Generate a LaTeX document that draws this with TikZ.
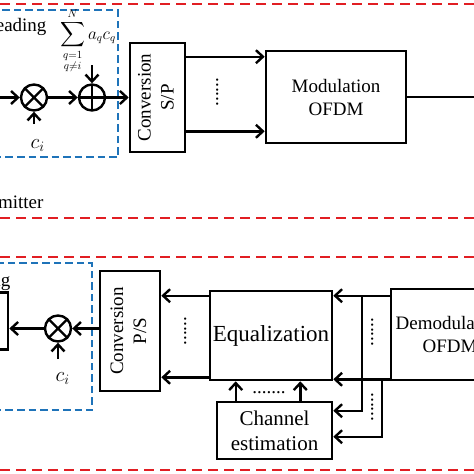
\documentclass[tikz,border=0pt]{standalone}
\usepackage{amsmath}
\usepackage{fontspec}
\setmainfont{Liberation Serif}
\usepackage{tikz}
\usetikzlibrary{arrows.meta,calc,positioning}
\definecolor{dashred}{RGB}{225,30,35}
\definecolor{dashblue}{RGB}{30,115,185}
\newcommand{\sidetext}[1]{\rotatebox{90}{\begin{tabular}{@{}c@{}}#1\end{tabular}}}
\tikzset{
>={Straight Barb[length=7pt,width=13pt]},
  block/.style={
    rectangle,
    draw=black, line width=2.6pt,
    inner sep=2pt,
    align=center},
  mixer/.style={circle, draw, line width=2.4pt, minimum size=26pt, inner sep=0pt},
  multiply/.style={mixer, path picture={
      \draw[line width=2.4pt] (path picture bounding box.south west) -- (path picture bounding box.north east)
        (path picture bounding box.north west) -- (path picture bounding box.south east);}},
  addition/.style={mixer, path picture={
      \draw[line width=2.4pt] (path picture bounding box.south) -- (path picture bounding box.north)
        (path picture bounding box.west) -- (path picture bounding box.east);}},
  wire/.style={draw, line width=2.4pt, ->},
  frontier/.style={draw=dashred, line width=2.3pt, dash pattern=on 10pt off 6pt},
  groupbox/.style={draw=dashblue, line width=2.3pt, dash pattern=on 7.5pt off 4pt},
}

\begin{document}
\begin{tikzpicture}[
    x=1pt, y=-1pt,
    every node/.style={font=\fontsize{19}{23}\selectfont},
    dots/.style={rotate=90, anchor=base},
    symbol/.style={font=\fontsize{22}{24}\selectfont, anchor=base west}
    ]
    \useasboundingbox (0,0) rectangle (474,474);
    \clip (0,0) rectangle (474,474);

	%frontiers
	\draw[frontier] (0,4) -- (474,4);
	\draw[frontier] (0,218) -- (474,218);
	\draw[frontier] (0,257) -- (474,257);
	\draw[frontier] (0,470) -- (474,470);

    %transmitter
    \draw[groupbox] (-20,10) rectangle (118,157);
    \node[anchor=base east] (spread) at (50,31) {Spreading};
    \node[anchor=base east] (tx) at (47,208) {Transmitter};
    \node[multiply] (mulA) at (34,97.5) {};
    \node[addition] (addA) at (92,97.5) {};
    \node[font=\fontsize{16}{18}\selectfont, inner sep=0pt] (sumA) at (88,41)
    {$\displaystyle\sum_{\substack{q=1\\ q\neq i}}^{N} a_q c_q$};
    \node[symbol] (ciA) at (27,148) {$c_i$};
    \node[block, minimum width=55pt, minimum height=109pt] (convSP) at (157.5,97.5)
    {\sidetext{Conversion\\S/P}};
    \node[dots] (dotsA) at (218,92) {......};
    \node[block, minimum width=140pt, minimum height=92pt] (modOFDM) at (336,97)
    {Modulation\\OFDM};

    \coordinate (inA) at (-5,97.5);
    \coordinate (outA) at (480,97);
    \coordinate (sumTip) at (92,65);
    \coordinate (ciTipA) at (34,124);
    \coordinate (modInA) at ($(modOFDM.north west)+(0,7)$);
    \coordinate (modInB) at ($(modOFDM.south west)+(0,-13)$);

    \draw[wire] (inA) -- (mulA);
    \draw[wire] (mulA) -- (addA);
    \draw[wire] (addA) -- (convSP);
    \draw[wire] (sumTip) -- (addA);
    \draw[wire] (ciTipA) -- (mulA);
    \draw[wire] (modInA -| convSP.east) -- (modInA);
    \draw[wire] (modInB -| convSP.east) -- (modInB);
    \draw[line width=2.4pt] (modOFDM) -- (outA);

    %receiver
    \draw[groupbox] (-20,263) rectangle (92,410);
    \node[anchor=base east] (despread) at (14,286) {Despreading};
    \node[block, minimum width=60pt, minimum height=57pt] (decide) at (-22,321) {};
    \node[multiply] (mulB) at (58,328.5) {};
    \node[symbol] (ciB) at (52,381) {$c_i$};
    \node[block, minimum width=60pt, minimum height=120pt] (convPS) at (130,331)
    {\sidetext{Conversion\\P/S}};
    \node[dots] (dotsB) at (186,331) {......};
    \node[block, minimum width=122pt, minimum height=89pt, font=\fontsize{23}{25}\selectfont]
    (equal) at (271,335.5) {Equalization};
    \node[block, minimum width=115pt, minimum height=57pt, font=\fontsize{21}{25}\selectfont]
    (chest) at (274.5,430.5) {Channel\\estimation};
    \node[anchor=base] (dotsC) at (269,393) {.......};
    \node[block, minimum width=118pt, minimum height=91pt] (demod) at (450,334.5)
    {Demodulation\\OFDM};
    \node[dots] (dotsD) at (373,332) {......};
    \node[dots] (dotsE) at (373,407) {......};

    \coordinate (ciTipB) at (58,359);
    \coordinate (eqOutA) at ($(equal.north west)+(0,6)$);
    \coordinate (eqOutB) at ($(equal.south west)+(0,-4)$);
    \coordinate (demOutA) at ($(demod.north west)+(0,8)$);
    \coordinate (demOutB) at ($(demod.south west)+(0,-2)$);
    \coordinate (tapA) at ($(demOutA)+(-28,0)$);
    \coordinate (tapB) at ($(demOutB)+(-8,0)$);
    \coordinate (chInA) at ($(chest.north east)+(0,10)$);
    \coordinate (chInB) at ($(chest.north east)+(0,36)$);
    \coordinate (chOutA) at ($(chest.north west)+(20,0)$);
    \coordinate (chOutB) at ($(chest.north east)+(-33,0)$);

    \draw[wire] (convPS.west |- mulB) -- (mulB);
    \draw[wire] (mulB) -- (mulB -| decide.east);
    \draw[wire] (ciTipB) -- (mulB);
    \draw[wire] (eqOutA) -- (eqOutA -| convPS.east);
    \draw[wire] (eqOutB) -- (eqOutB -| convPS.east);
    \draw[wire] (demOutA) -- (demOutA -| equal.east);
    \draw[wire] (demOutB) -- (demOutB -| equal.east);
    \draw[wire] (tapA) |- (chInA);
    \draw[wire] (tapB) |- (chInB);
    \draw[wire] (chOutA) -- (chOutA |- equal.south);
    \draw[wire] (chOutB) -- (chOutB |- equal.south);

\end{tikzpicture}
\end{document}
